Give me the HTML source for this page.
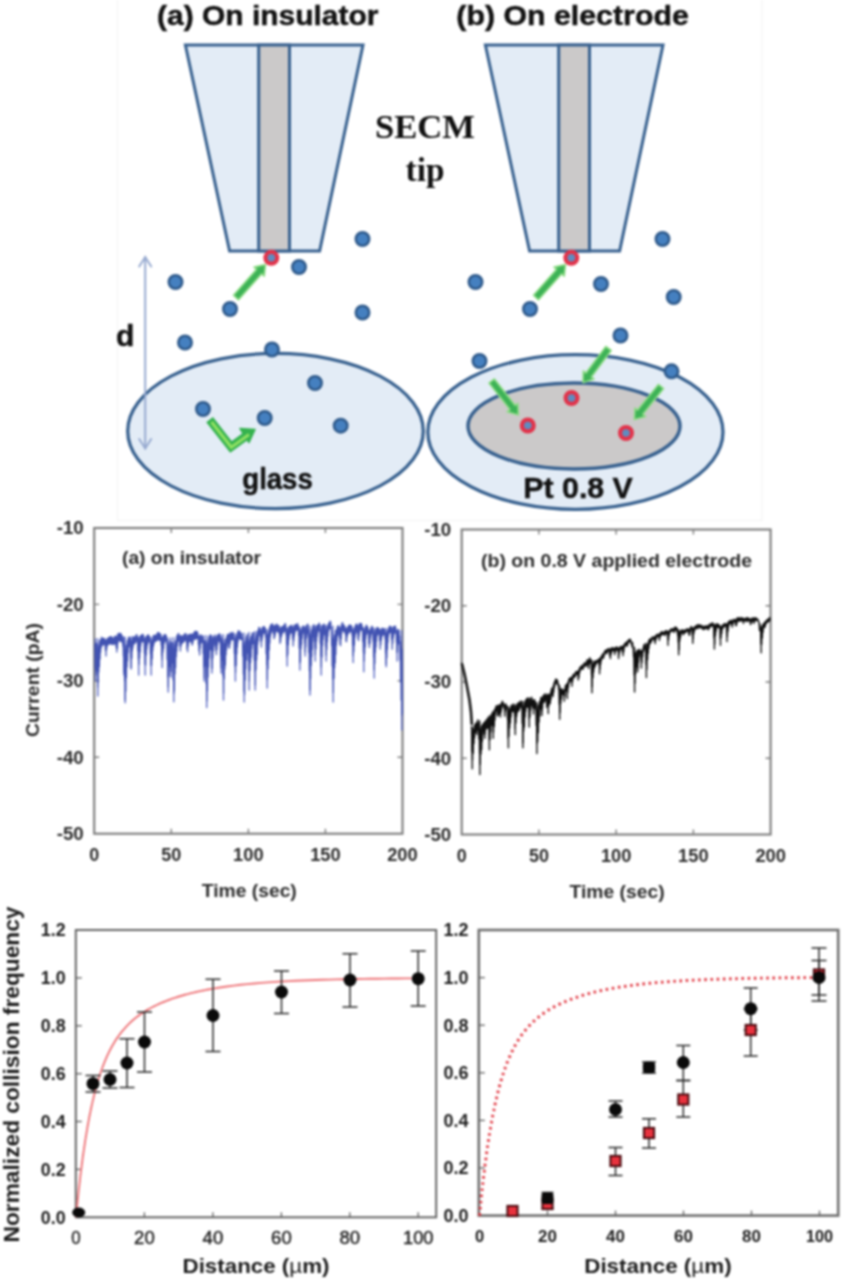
<!DOCTYPE html>
<html lang="en"><head><meta charset="utf-8"><title>SECM collision figure</title>
<style>
html,body{margin:0;padding:0;background:#fff;}
body{width:842px;height:1280px;overflow:hidden;}
svg{display:block;filter:blur(1px);}
.sb{font-family:"Liberation Sans",sans-serif;font-weight:bold;}
.sr{font-family:"Liberation Sans",sans-serif;font-weight:normal;}
.tb{font-family:"Liberation Serif",serif;font-weight:bold;}
</style></head><body>
<svg width="842" height="1280" viewBox="0 0 842 1280">
<rect x="0" y="0" width="842" height="1280" fill="#ffffff"/>
<g>
<rect x="117.5" y="-2" width="644.5" height="522.5" fill="none" stroke="#f2f2f2" stroke-width="1"/>
<ellipse cx="275.5" cy="431" rx="147.8" ry="77.6" fill="#e3ecf6" stroke="#38618f" stroke-width="3.3"/>
<ellipse cx="575.4" cy="432" rx="147.6" ry="77.4" fill="#e3ecf6" stroke="#38618f" stroke-width="3.3"/>
<ellipse cx="574" cy="426" rx="106" ry="43" fill="#cbc9c9" stroke="#38618f" stroke-width="3.5"/>
<polygon points="185.4,45 363,45 319.6,251 229.6,251" fill="#e3ecf6" stroke="#38618f" stroke-width="3" stroke-linejoin="miter"/>
<rect x="258.7" y="45" width="30.8" height="206" fill="#cbc9c9" stroke="#38618f" stroke-width="3"/>
<polygon points="485.4,45 663,45 619.6,251 529.6,251" fill="#e3ecf6" stroke="#38618f" stroke-width="3" stroke-linejoin="miter"/>
<rect x="558.7" y="45" width="30.8" height="206" fill="#cbc9c9" stroke="#38618f" stroke-width="3"/>
<g stroke="#97aad0" stroke-width="2" fill="none" stroke-linecap="round"><path d="M145.2 257 V448.5"/><path d="M139.2 266.5 L145.2 257 L151.2 266.5"/><path d="M139.2 439 L145.2 448.5 L151.2 439"/></g>
<circle cx="175.5" cy="282" r="6.7" fill="#4580c0" stroke="#305b8c" stroke-width="2.6"/>
<circle cx="230" cy="309" r="6.7" fill="#4580c0" stroke="#305b8c" stroke-width="2.6"/>
<circle cx="299" cy="267" r="6.7" fill="#4580c0" stroke="#305b8c" stroke-width="2.6"/>
<circle cx="362.5" cy="239" r="6.7" fill="#4580c0" stroke="#305b8c" stroke-width="2.6"/>
<circle cx="362.5" cy="312.5" r="6.7" fill="#4580c0" stroke="#305b8c" stroke-width="2.6"/>
<circle cx="185" cy="342.5" r="6.7" fill="#4580c0" stroke="#305b8c" stroke-width="2.6"/>
<circle cx="272" cy="349.5" r="6.7" fill="#4580c0" stroke="#305b8c" stroke-width="2.6"/>
<circle cx="315" cy="383" r="6.7" fill="#4580c0" stroke="#305b8c" stroke-width="2.6"/>
<circle cx="203" cy="409" r="6.7" fill="#4580c0" stroke="#305b8c" stroke-width="2.6"/>
<circle cx="264.7" cy="418" r="6.7" fill="#4580c0" stroke="#305b8c" stroke-width="2.6"/>
<circle cx="340.7" cy="425.7" r="6.7" fill="#4580c0" stroke="#305b8c" stroke-width="2.6"/>
<circle cx="475.5" cy="282" r="6.7" fill="#4580c0" stroke="#305b8c" stroke-width="2.6"/>
<circle cx="530" cy="309" r="6.7" fill="#4580c0" stroke="#305b8c" stroke-width="2.6"/>
<circle cx="662.5" cy="239" r="6.7" fill="#4580c0" stroke="#305b8c" stroke-width="2.6"/>
<circle cx="601" cy="284" r="6.7" fill="#4580c0" stroke="#305b8c" stroke-width="2.6"/>
<circle cx="673.7" cy="297" r="6.7" fill="#4580c0" stroke="#305b8c" stroke-width="2.6"/>
<circle cx="620.5" cy="335.5" r="6.7" fill="#4580c0" stroke="#305b8c" stroke-width="2.6"/>
<circle cx="479.5" cy="361" r="6.7" fill="#4580c0" stroke="#305b8c" stroke-width="2.6"/>
<circle cx="671.5" cy="371.3" r="6.7" fill="#4580c0" stroke="#305b8c" stroke-width="2.6"/>
<polygon points="238.5,299.8 261.7,273.8 264.2,276.1 265.5,264.5 254.1,267.1 256.6,269.3 233.5,295.2" fill="#3db256" stroke="#8fdc86" stroke-width="1.6" stroke-linejoin="round"/>
<polygon points="538.5,299.8 561.7,273.8 564.2,276.1 565.5,264.5 554.1,267.1 556.6,269.3 533.5,295.2" fill="#3db256" stroke="#8fdc86" stroke-width="1.6" stroke-linejoin="round"/>
<polygon points="489.0,383.1 509.9,409.6 507.2,411.7 518.4,415.0 517.8,403.4 515.2,405.4 494.4,378.9" fill="#3db256" stroke="#8fdc86" stroke-width="1.6" stroke-linejoin="round"/>
<polygon points="605.8,346.5 586.0,373.1 583.3,371.0 583.0,382.7 594.1,379.1 591.4,377.1 611.2,350.5" fill="#3db256" stroke="#8fdc86" stroke-width="1.6" stroke-linejoin="round"/>
<polygon points="658.4,384.4 637.6,410.1 635.0,408.0 634.3,419.6 645.5,416.4 642.9,414.3 663.6,388.6" fill="#3db256" stroke="#8fdc86" stroke-width="1.6" stroke-linejoin="round"/>
<path d="M209.6 419.6 L231 447 L246 436" fill="none" stroke="#34b24e" stroke-width="8.5" stroke-linejoin="miter"/>
<polygon points="255,429.5 240,428.5 249,442.5" fill="#34b24e" stroke="#34b24e" stroke-width="1.5" stroke-linejoin="round"/>
<path d="M211.5 422 L231.3 447.2 L249 434.5" fill="none" stroke="#8fe063" stroke-width="3.2" stroke-linejoin="miter"/>
<circle cx="271.3" cy="257.8" r="5.9" fill="#5f8cc0" stroke="#e2334a" stroke-width="4.2"/>
<circle cx="571.3" cy="257.8" r="5.9" fill="#5f8cc0" stroke="#e2334a" stroke-width="4.2"/>
<circle cx="571.5" cy="398" r="5.9" fill="#5f8cc0" stroke="#e2334a" stroke-width="4.2"/>
<circle cx="527.8" cy="425.5" r="5.9" fill="#5f8cc0" stroke="#e2334a" stroke-width="4.2"/>
<circle cx="626" cy="433" r="5.9" fill="#5f8cc0" stroke="#e2334a" stroke-width="4.2"/>
<text class="sb" x="157" y="25" font-size="27.5" fill="#121212" stroke="#121212" stroke-width="0.45" textLength="221.5" lengthAdjust="spacingAndGlyphs">(a) On insulator</text>
<text class="sb" x="456.3" y="25" font-size="27.5" fill="#121212" stroke="#121212" stroke-width="0.45" textLength="232.5" lengthAdjust="spacingAndGlyphs">(b) On electrode</text>
<text class="tb" x="375" y="137.5" font-size="34" fill="#111" textLength="100" lengthAdjust="spacingAndGlyphs">SECM</text>
<text class="tb" x="405.5" y="181" font-size="34" fill="#111" textLength="39" lengthAdjust="spacingAndGlyphs">tip</text>
<text class="sb" x="116" y="345.5" font-size="30" fill="#121212" stroke="#121212" stroke-width="0.45">d</text>
<text class="sb" x="242.3" y="489" font-size="29" fill="#121212" stroke="#121212" stroke-width="0.45" textLength="70.5" lengthAdjust="spacingAndGlyphs">glass</text>
<text class="sb" x="523.3" y="498.2" font-size="28.6" fill="#121212" stroke="#121212" stroke-width="0.45" textLength="109.5" lengthAdjust="spacingAndGlyphs">Pt 0.8 V</text>
<rect x="94.2" y="528" width="308.3" height="305.70000000000005" fill="#fff" stroke="#7c7c7c" stroke-width="2.1"/>
<path d="M94.2 604.4 h5 M402.5 604.4 h-5" stroke="#7c7c7c" stroke-width="1.4"/>
<path d="M171.3 528 v5 M171.3 833.7 v-5" stroke="#7c7c7c" stroke-width="1.4"/>
<path d="M94.2 680.9 h5 M402.5 680.9 h-5" stroke="#7c7c7c" stroke-width="1.4"/>
<path d="M248.4 528 v5 M248.4 833.7 v-5" stroke="#7c7c7c" stroke-width="1.4"/>
<path d="M94.2 757.3 h5 M402.5 757.3 h-5" stroke="#7c7c7c" stroke-width="1.4"/>
<path d="M325.4 528 v5 M325.4 833.7 v-5" stroke="#7c7c7c" stroke-width="1.4"/>
<text class="sb" x="56.7" y="534.3" font-size="17.6" fill="#2c2c2c" textLength="27" lengthAdjust="spacingAndGlyphs">-10</text>
<text class="sb" x="56.7" y="610.7" font-size="17.6" fill="#2c2c2c" textLength="27" lengthAdjust="spacingAndGlyphs">-20</text>
<text class="sb" x="56.7" y="687.1" font-size="17.6" fill="#2c2c2c" textLength="27" lengthAdjust="spacingAndGlyphs">-30</text>
<text class="sb" x="56.7" y="763.6" font-size="17.6" fill="#2c2c2c" textLength="27" lengthAdjust="spacingAndGlyphs">-40</text>
<text class="sb" x="56.7" y="840.0" font-size="17.6" fill="#2c2c2c" textLength="27" lengthAdjust="spacingAndGlyphs">-50</text>
<text class="sb" x="89.2" y="861.3" font-size="17.6" fill="#2c2c2c" textLength="10" lengthAdjust="spacingAndGlyphs">0</text>
<text class="sb" x="161.3" y="861.3" font-size="17.6" fill="#2c2c2c" textLength="20" lengthAdjust="spacingAndGlyphs">50</text>
<text class="sb" x="233.1" y="861.3" font-size="17.6" fill="#2c2c2c" textLength="30.5" lengthAdjust="spacingAndGlyphs">100</text>
<text class="sb" x="310.2" y="861.3" font-size="17.6" fill="#2c2c2c" textLength="30.5" lengthAdjust="spacingAndGlyphs">150</text>
<text class="sb" x="387.2" y="861.3" font-size="17.6" fill="#2c2c2c" textLength="30.5" lengthAdjust="spacingAndGlyphs">200</text>
<text class="sb" x="201.8" y="896.7" font-size="18" fill="#2c2c2c" textLength="95" lengthAdjust="spacingAndGlyphs">Time (sec)</text>
<text class="sb" x="122" y="564" font-size="18" fill="#2c2c2c" textLength="139" lengthAdjust="spacingAndGlyphs">(a) on insulator</text>
<rect x="461.7" y="529.5" width="308.90000000000003" height="305.0" fill="#fff" stroke="#7c7c7c" stroke-width="2.1"/>
<path d="M461.7 605.8 h5 M770.6 605.8 h-5" stroke="#7c7c7c" stroke-width="1.4"/>
<path d="M538.9 529.5 v5 M538.9 834.5 v-5" stroke="#7c7c7c" stroke-width="1.4"/>
<path d="M461.7 682.0 h5 M770.6 682.0 h-5" stroke="#7c7c7c" stroke-width="1.4"/>
<path d="M616.1 529.5 v5 M616.1 834.5 v-5" stroke="#7c7c7c" stroke-width="1.4"/>
<path d="M461.7 758.2 h5 M770.6 758.2 h-5" stroke="#7c7c7c" stroke-width="1.4"/>
<path d="M693.4 529.5 v5 M693.4 834.5 v-5" stroke="#7c7c7c" stroke-width="1.4"/>
<text class="sb" x="424.2" y="535.8" font-size="17.6" fill="#2c2c2c" textLength="27" lengthAdjust="spacingAndGlyphs">-10</text>
<text class="sb" x="424.2" y="612.0" font-size="17.6" fill="#2c2c2c" textLength="27" lengthAdjust="spacingAndGlyphs">-20</text>
<text class="sb" x="424.2" y="688.3" font-size="17.6" fill="#2c2c2c" textLength="27" lengthAdjust="spacingAndGlyphs">-30</text>
<text class="sb" x="424.2" y="764.5" font-size="17.6" fill="#2c2c2c" textLength="27" lengthAdjust="spacingAndGlyphs">-40</text>
<text class="sb" x="424.2" y="840.8" font-size="17.6" fill="#2c2c2c" textLength="27" lengthAdjust="spacingAndGlyphs">-50</text>
<text class="sb" x="456.7" y="862.1" font-size="17.6" fill="#2c2c2c" textLength="10" lengthAdjust="spacingAndGlyphs">0</text>
<text class="sb" x="528.9" y="862.1" font-size="17.6" fill="#2c2c2c" textLength="20" lengthAdjust="spacingAndGlyphs">50</text>
<text class="sb" x="600.9" y="862.1" font-size="17.6" fill="#2c2c2c" textLength="30.5" lengthAdjust="spacingAndGlyphs">100</text>
<text class="sb" x="678.1" y="862.1" font-size="17.6" fill="#2c2c2c" textLength="30.5" lengthAdjust="spacingAndGlyphs">150</text>
<text class="sb" x="755.4" y="862.1" font-size="17.6" fill="#2c2c2c" textLength="30.5" lengthAdjust="spacingAndGlyphs">200</text>
<text class="sb" x="569.6" y="897.5" font-size="18" fill="#2c2c2c" textLength="95" lengthAdjust="spacingAndGlyphs">Time (sec)</text>
<text class="sb" x="481" y="567" font-size="18" fill="#2c2c2c" textLength="271" lengthAdjust="spacingAndGlyphs">(b) on 0.8 V applied electrode</text>
<text class="sb" transform="translate(38.5 737) rotate(-90)" font-size="19" fill="#2c2c2c" textLength="114" lengthAdjust="spacingAndGlyphs">Current (pA)</text>
<path d="M95.3 638.9 L95.5 681.0 M97.6 638.8 L97.8 696.0 M123.8 637.3 L124.0 675.0 M125.0 637.3 L125.2 702.7 M130.9 637.0 L131.1 669.0 M138.5 637.2 L138.7 675.0 M145.0 637.4 L145.2 675.0 M151.0 637.5 L151.2 675.0 M162.0 637.8 L162.2 667.5 M168.0 638.0 L168.2 692.0 M170.8 637.9 L171.0 677.0 M173.6 637.8 L173.8 701.7 M204.0 635.8 L204.2 681.0 M206.5 635.7 L206.7 707.5 M211.7 635.4 L211.9 673.0 M221.0 635.0 L221.2 673.0 M223.3 634.8 L223.5 700.0 M235.2 634.2 L235.4 681.0 M244.0 633.3 L244.2 702.0 M249.0 632.5 L249.2 690.0 M255.0 631.5 L255.2 690.0 M267.0 629.5 L267.2 688.0 M287.0 627.9 L287.2 666.0 M299.7 627.0 L299.9 670.0 M305.0 626.6 L305.2 656.0 M309.8 626.2 L310.0 695.0 M315.0 625.8 L315.2 661.0 M321.0 625.3 L321.2 675.0 M326.0 625.1 L326.2 661.0 M333.0 626.2 L333.2 702.0 M353.0 628.0 L353.2 662.6 M363.6 628.0 L363.8 671.7 M374.0 628.0 L374.2 678.0 M386.0 628.5 L386.2 666.7 M397.0 629.5 L397.2 661.0 M401.6 630.6 L401.8 730.0" stroke="#5a69c4" stroke-width="1.4" fill="none" stroke-linecap="round"/>
<polyline points="94.90,643.7 95.20,668.2 95.50,645.4 95.80,674.8 96.10,642.9 96.40,666.7 96.70,643.8 97.00,671.1 97.30,649.0 97.60,687.1 97.90,649.0 98.20,682.2 98.50,646.1 98.80,672.1 99.10,643.8 99.40,666.8 99.70,640.8 100.00,658.9 100.30,639.9 100.60,652.2 100.90,638.9 101.20,648.1 101.50,637.2 101.80,645.9 102.10,638.2 102.40,644.8 102.70,638.2 103.00,644.8 103.30,638.9 103.60,645.0 103.90,638.4 104.20,644.3 104.50,638.3 104.80,644.3 105.10,639.5 105.40,650.2 105.70,640.8 106.00,656.1 106.30,640.3 106.60,649.8 106.90,638.8 107.20,646.3 107.50,638.3 107.80,644.8 108.10,639.0 108.40,644.4 108.70,637.3 109.00,644.0 109.30,638.4 109.60,643.6 109.90,636.9 110.20,643.6 110.50,636.9 110.80,644.2 111.10,636.5 111.40,643.6 111.70,636.9 112.00,644.2 112.30,637.5 112.60,644.3 112.90,638.5 113.20,643.9 113.50,638.0 113.80,644.5 114.10,638.3 114.40,643.8 114.70,636.3 115.00,643.9 115.30,636.1 115.60,642.8 115.90,636.1 116.20,647.4 116.50,638.2 116.80,652.1 117.10,636.6 117.40,648.6 117.70,634.0 118.00,643.0 118.30,634.4 118.60,640.4 118.90,633.3 119.20,640.6 119.50,633.4 119.80,640.9 120.10,633.4 120.40,640.9 120.70,633.3 121.00,641.4 121.30,634.2 121.60,641.9 121.90,635.8 122.20,642.1 122.50,636.0 122.80,645.9 123.10,640.2 123.40,655.9 123.70,643.5 124.00,672.3 124.30,645.6 124.60,680.8 124.90,650.7 125.20,700.2 125.50,649.7 125.80,691.3 126.10,645.8 126.40,677.4 126.70,644.6 127.00,666.9 127.30,640.9 127.60,661.0 127.90,639.6 128.20,652.4 128.50,637.2 128.80,647.4 129.10,637.6 129.40,644.2 129.70,637.3 130.00,645.9 130.30,639.3 130.60,657.5 130.90,641.7 131.20,667.7 131.50,641.2 131.80,658.4 132.10,639.9 132.40,650.6 132.70,637.2 133.00,647.6 133.30,636.4 133.60,644.2 133.90,638.1 134.20,643.6 134.50,637.3 134.80,643.6 135.10,636.8 135.40,642.2 135.70,635.7 136.00,642.3 136.30,634.9 136.60,641.0 136.90,634.6 137.20,640.9 137.50,637.0 137.80,650.8 138.10,638.1 138.40,659.3 138.70,640.2 139.00,664.3 139.30,639.0 139.60,658.0 139.90,636.2 140.20,652.0 140.50,636.3 140.80,645.7 141.10,635.3 141.40,642.2 141.70,634.9 142.00,641.8 142.30,634.4 142.60,641.4 142.90,634.5 143.20,641.7 143.50,635.0 143.80,641.2 144.10,638.3 144.40,652.9 144.70,641.0 145.00,664.1 145.30,640.0 145.60,665.3 145.90,637.2 146.20,655.1 146.50,636.3 146.80,649.1 147.10,635.4 147.40,645.1 147.70,635.5 148.00,642.9 148.30,634.7 148.60,641.7 148.90,635.6 149.20,641.6 149.50,636.4 149.80,642.0 150.10,638.9 150.40,653.7 150.70,642.1 151.00,665.3 151.30,642.9 151.60,665.4 151.90,641.0 152.20,658.8 152.50,638.9 152.80,650.4 153.10,636.0 153.40,646.5 153.70,635.4 154.00,644.1 154.30,636.4 154.60,641.8 154.90,635.3 155.20,641.5 155.50,635.1 155.80,640.7 156.10,634.8 156.40,641.0 156.70,634.8 157.00,640.1 157.30,633.2 157.60,640.0 157.90,632.5 158.20,639.9 158.50,632.8 158.80,639.7 159.10,632.6 159.40,640.1 159.70,633.8 160.00,640.6 160.30,634.8 160.60,639.8 160.90,634.2 161.20,645.1 161.50,637.7 161.80,655.6 162.10,640.3 162.40,659.7 162.70,637.0 163.00,652.0 163.30,636.5 163.60,648.5 163.90,635.0 164.20,643.6 164.50,634.9 164.80,641.2 165.10,634.3 165.40,640.7 165.70,634.8 166.00,641.2 166.30,635.6 166.60,643.7 166.90,639.4 167.20,659.4 167.50,643.8 167.80,676.9 168.10,647.1 168.40,686.9 168.70,645.6 169.00,676.1 169.30,642.9 169.60,666.6 169.90,641.0 170.20,660.3 170.50,644.8 170.80,670.6 171.10,645.3 171.40,671.9 171.70,642.3 172.00,661.0 172.30,642.7 172.60,663.0 172.90,647.6 173.20,679.9 173.50,651.5 173.80,693.4 174.10,648.3 174.40,690.5 174.70,644.2 175.00,673.8 175.30,641.5 175.60,667.7 175.90,640.4 176.20,656.8 176.50,636.8 176.80,651.3 177.10,635.1 177.40,645.7 177.70,634.8 178.00,641.3 178.30,633.5 178.60,640.0 178.90,633.9 179.20,641.4 179.50,635.9 179.80,645.9 180.10,637.1 180.40,651.0 180.70,635.9 181.00,646.3 181.30,635.3 181.60,644.1 181.90,636.5 182.20,643.1 182.50,636.8 182.80,642.5 183.10,636.0 183.40,642.4 183.70,635.2 184.00,641.4 184.30,634.1 184.60,640.7 184.90,634.7 185.20,640.3 185.50,633.3 185.80,639.9 186.10,634.4 186.40,642.2 186.70,636.6 187.00,649.2 187.30,637.0 187.60,651.7 187.90,634.5 188.20,646.2 188.50,635.0 188.80,642.7 189.10,635.1 189.40,641.2 189.70,634.3 190.00,641.2 190.30,635.3 190.60,641.5 190.90,634.1 191.20,640.8 191.50,634.1 191.80,644.0 192.10,634.9 192.40,645.1 192.70,634.3 193.00,642.4 193.30,633.3 193.60,639.6 193.90,632.8 194.20,639.4 194.50,631.6 194.80,638.4 195.10,632.0 195.40,639.2 195.70,631.2 196.00,638.2 196.30,632.4 196.60,638.6 196.90,631.7 197.20,638.3 197.50,631.8 197.80,638.4 198.10,634.0 198.40,644.3 198.70,636.4 199.00,651.1 199.30,636.4 199.60,654.9 199.90,635.6 200.20,648.0 200.50,634.8 200.80,643.4 201.10,635.1 201.40,642.1 201.70,636.2 202.00,642.3 202.30,636.0 202.60,642.5 202.90,637.7 203.20,653.5 203.50,640.5 203.80,666.9 204.10,643.5 204.40,678.1 204.70,640.6 205.00,666.0 205.30,640.8 205.60,664.3 205.90,643.7 206.20,683.6 206.50,649.1 206.80,701.0 207.10,644.7 207.40,690.8 207.70,642.2 208.00,677.0 208.30,639.4 208.60,667.1 208.90,636.7 209.20,658.1 209.50,636.2 209.80,649.8 210.10,634.6 210.40,644.5 210.70,635.6 211.00,649.9 211.30,639.1 211.60,659.9 211.90,640.5 212.20,668.5 212.50,638.7 212.80,658.0 213.10,637.1 213.40,650.7 213.70,636.8 214.00,646.6 214.30,636.0 214.60,643.9 214.90,634.9 215.20,643.1 215.50,637.9 215.80,650.4 216.10,639.8 216.40,654.6 216.70,636.2 217.00,649.4 217.30,635.1 217.60,644.8 217.90,635.0 218.20,641.5 218.50,634.8 218.80,641.2 219.10,633.9 219.40,640.8 219.70,633.9 220.00,643.1 220.30,637.0 220.60,654.9 220.90,640.0 221.20,668.1 221.50,637.6 221.80,660.5 222.10,638.8 222.40,659.1 222.70,641.6 223.00,675.8 223.30,647.9 223.60,693.2 223.90,644.1 224.20,678.7 224.50,643.2 224.80,669.1 225.10,639.6 225.40,665.1 225.70,639.1 226.00,654.7 226.30,637.7 226.60,649.7 226.90,635.7 227.20,646.3 227.50,634.4 227.80,641.6 228.10,634.2 228.40,643.0 228.70,635.6 229.00,647.8 229.30,634.4 229.60,648.1 229.90,633.7 230.20,643.8 230.50,632.4 230.80,640.7 231.10,633.4 231.40,639.1 231.70,633.3 232.00,639.7 232.30,633.4 232.60,639.1 232.90,632.1 233.20,639.5 233.50,633.2 233.80,639.9 234.10,637.3 234.40,653.4 234.70,639.1 235.00,666.0 235.30,641.7 235.60,672.5 235.90,639.0 236.20,665.4 236.50,636.2 236.80,653.7 237.10,633.1 237.40,646.9 237.70,632.5 238.00,642.2 238.30,630.5 238.60,639.1 238.90,632.2 239.20,638.4 239.50,631.3 239.80,637.8 240.10,631.4 240.40,639.4 240.70,633.4 241.00,638.9 241.30,634.4 241.60,639.4 241.90,633.2 242.20,639.9 242.50,637.6 242.80,656.2 243.10,642.0 243.40,674.1 243.70,645.4 244.00,691.2 244.30,647.2 244.60,694.4 244.90,643.2 245.20,680.0 245.50,640.9 245.80,668.8 246.10,637.2 246.40,660.0 246.70,635.7 247.00,652.9 247.30,634.0 247.60,647.1 247.90,638.3 248.20,660.6 248.50,640.7 248.80,670.9 249.10,645.0 249.40,681.1 249.70,641.4 250.00,670.3 250.30,639.0 250.60,662.5 250.90,636.4 251.20,657.3 251.50,635.8 251.80,648.4 252.10,633.2 252.40,644.3 252.70,633.1 253.00,639.7 253.30,632.7 253.60,643.6 253.90,637.8 254.20,660.0 254.50,641.4 254.80,671.2 255.10,643.6 255.40,685.1 255.70,639.1 256.00,669.7 256.30,635.5 256.60,659.9 256.90,632.6 257.20,654.3 257.50,630.9 257.80,644.0 258.10,630.4 258.40,640.4 258.70,627.4 259.00,636.4 259.30,628.0 259.60,634.9 259.90,627.9 260.20,634.5 260.50,630.4 260.80,641.3 261.10,631.1 261.40,647.0 261.70,629.2 262.00,640.2 262.30,627.5 262.60,637.1 262.90,627.5 263.20,634.1 263.50,626.6 263.80,632.8 264.10,626.3 264.40,632.8 264.70,627.3 265.00,633.4 265.30,628.0 265.60,637.1 265.90,631.1 266.20,653.8 266.50,634.6 266.80,664.7 267.10,638.9 267.40,679.8 267.70,635.2 268.00,668.8 268.30,633.1 268.60,659.3 268.90,630.2 269.20,650.0 269.50,627.3 269.80,643.0 270.10,626.5 270.40,636.7 270.70,624.5 271.00,633.8 271.30,624.6 271.60,631.9 271.90,624.9 272.20,631.2 272.50,623.6 272.80,631.2 273.10,625.3 273.40,633.4 273.70,626.4 274.00,638.7 274.30,626.1 274.60,637.6 274.90,625.5 275.20,634.9 275.50,625.5 275.80,631.6 276.10,624.3 276.40,631.1 276.70,624.0 277.00,631.0 277.30,625.6 277.60,631.8 277.90,625.8 278.20,632.2 278.50,625.1 278.80,631.8 279.10,626.2 279.40,635.0 279.70,628.5 280.00,643.4 280.30,628.7 280.60,641.7 280.90,627.3 281.20,637.3 281.50,626.9 281.80,635.4 282.10,627.8 282.40,633.3 282.70,626.3 283.00,632.7 283.30,626.3 283.60,631.7 283.90,625.2 284.20,631.9 284.50,625.0 284.80,630.6 285.10,623.3 285.40,630.6 285.70,624.4 286.00,634.7 286.30,627.9 286.60,644.3 286.90,631.2 287.20,656.7 287.50,630.4 287.80,654.4 288.10,628.8 288.40,644.7 288.70,627.2 289.00,639.3 289.30,627.0 289.60,635.7 289.90,625.8 290.20,633.5 290.50,625.9 290.80,632.4 291.10,626.3 291.40,632.8 291.70,625.1 292.00,632.6 292.30,626.5 292.60,638.8 292.90,628.4 293.20,645.9 293.50,627.5 293.80,640.8 294.10,625.2 294.40,636.2 294.70,625.4 295.00,633.2 295.30,625.5 295.60,630.8 295.90,624.2 296.20,630.3 296.50,624.9 296.80,630.2 297.10,624.3 297.40,630.1 297.70,623.5 298.00,630.2 298.30,625.7 298.60,635.4 298.90,628.9 299.20,648.2 299.50,633.0 299.80,662.8 300.10,632.4 300.40,661.6 300.70,629.8 301.00,648.6 301.30,629.7 301.60,644.6 301.90,627.6 302.20,638.5 302.50,626.6 302.80,634.2 303.10,626.1 303.40,632.1 303.70,626.0 304.00,632.2 304.30,628.3 304.60,642.6 304.90,630.9 305.20,652.1 305.50,628.7 305.80,647.1 306.10,626.1 306.40,638.4 306.70,625.1 307.00,633.4 307.30,624.5 307.60,631.6 307.90,624.2 308.20,636.8 308.50,629.6 308.80,652.4 309.10,633.7 309.40,670.8 309.70,637.6 310.00,690.1 310.30,635.3 310.60,678.5 310.90,633.0 311.20,665.5 311.50,630.5 311.80,656.6 312.10,628.7 312.40,649.4 312.70,625.8 313.00,641.3 313.30,626.1 313.60,636.9 313.90,624.5 314.20,636.2 314.50,628.4 314.80,647.4 315.10,631.4 315.40,654.6 315.70,628.9 316.00,648.9 316.30,626.7 316.60,641.1 316.90,625.6 317.20,636.4 317.50,625.5 317.80,632.9 318.10,624.3 318.40,631.0 318.70,624.6 319.00,630.8 319.30,623.0 319.60,631.1 319.90,627.5 320.20,643.3 320.50,630.1 320.80,656.0 321.10,632.4 321.40,667.0 321.70,627.8 322.00,657.0 322.30,625.6 322.60,645.5 322.90,625.7 323.20,639.5 323.50,624.1 323.80,635.4 324.10,624.1 324.40,632.5 324.70,625.5 325.00,633.9 325.30,628.1 325.60,646.4 325.90,632.5 326.20,655.2 326.50,630.3 326.80,649.6 327.10,627.0 327.40,641.6 327.70,625.8 328.00,636.1 328.30,624.0 328.60,631.4 328.90,623.2 329.20,629.3 329.50,622.1 329.80,628.5 330.10,621.2 330.40,628.3 330.70,621.9 331.00,629.0 331.30,627.2 331.60,645.7 331.90,631.2 332.20,666.0 332.50,637.9 332.80,678.9 333.10,641.0 333.40,692.4 333.70,639.0 334.00,678.3 334.30,635.7 334.60,667.7 334.90,634.5 335.20,662.9 335.50,630.5 335.80,654.5 336.10,630.4 336.40,645.2 336.70,628.8 337.00,640.9 337.30,626.5 337.60,636.0 337.90,626.4 338.20,634.3 338.50,625.4 338.80,633.0 339.10,627.0 339.40,637.7 339.70,629.3 340.00,644.4 340.30,627.8 340.60,645.7 340.90,626.5 341.20,638.8 341.50,624.6 341.80,633.8 342.10,623.0 342.40,630.0 342.70,622.7 343.00,630.6 343.30,625.5 343.60,631.5 343.90,625.2 344.20,631.3 344.50,625.5 344.80,632.5 345.10,627.0 345.40,634.4 345.70,628.7 346.00,641.2 346.30,628.9 346.60,641.7 346.90,628.0 347.20,636.9 347.50,627.3 347.80,634.4 348.10,626.0 348.40,632.3 348.70,626.1 349.00,633.0 349.30,625.0 349.60,631.6 349.90,625.1 350.20,631.3 350.50,625.0 350.80,631.8 351.10,626.2 351.40,631.9 351.70,625.9 352.00,635.2 352.30,630.0 352.60,645.1 352.90,632.3 353.20,655.7 353.50,630.8 353.80,651.7 354.10,629.3 354.40,645.1 354.70,627.5 355.00,637.3 355.30,625.1 355.60,634.3 355.90,624.8 356.20,632.0 356.50,623.8 356.80,630.4 357.10,624.5 357.40,632.9 357.70,625.8 358.00,638.9 358.30,626.8 358.60,640.7 358.90,624.8 359.20,636.1 359.50,623.5 359.80,632.5 360.10,623.8 360.40,629.9 360.70,623.7 361.00,630.0 361.30,623.3 361.60,630.1 361.90,624.5 362.20,630.2 362.50,627.1 362.80,641.5 363.10,630.3 363.40,652.3 363.70,633.3 364.00,661.1 364.30,630.5 364.60,653.7 364.90,628.1 365.20,646.9 365.50,626.8 365.80,638.6 366.10,625.1 366.40,634.8 366.70,625.4 367.00,632.6 367.30,626.5 367.60,632.4 367.90,627.1 368.20,634.1 368.50,629.9 368.80,643.7 369.10,630.8 369.40,647.4 369.70,630.6 370.00,643.6 370.30,629.1 370.60,637.7 370.90,627.8 371.20,634.4 371.50,626.7 371.80,632.8 372.10,626.2 372.40,632.8 372.70,628.1 373.00,641.1 373.30,630.8 373.60,657.0 373.90,634.0 374.20,669.9 374.50,633.4 374.80,663.5 375.10,630.4 375.40,652.3 375.70,629.8 376.00,647.1 376.30,628.3 376.60,641.2 376.90,627.6 377.20,636.0 377.50,627.3 377.80,634.3 378.10,627.9 378.40,634.1 378.70,628.3 379.00,633.7 379.30,629.1 379.60,640.6 379.90,631.9 380.20,649.1 380.50,630.7 380.80,644.8 381.10,629.2 381.40,640.1 381.70,628.7 382.00,636.7 382.30,628.0 382.60,635.1 382.90,628.7 383.20,634.9 383.50,629.1 383.80,634.7 384.10,628.7 384.40,634.6 384.70,629.5 385.00,638.7 385.30,632.4 385.60,653.0 385.90,636.9 386.20,664.5 386.50,633.3 386.80,657.8 387.10,631.6 387.40,649.3 387.70,630.3 388.00,642.3 388.30,628.4 388.60,636.3 388.90,627.6 389.20,633.5 389.50,626.2 389.80,632.5 390.10,626.3 390.40,632.4 390.70,626.5 391.00,632.7 391.30,627.1 391.60,639.6 391.90,629.7 392.20,649.2 392.50,628.9 392.80,643.3 393.10,627.1 393.40,637.4 393.70,626.7 394.00,634.2 394.30,626.4 394.60,633.0 394.90,626.3 395.20,632.7 395.50,626.1 395.80,633.0 396.10,629.9 396.40,642.0 396.70,632.6 397.00,652.3 397.30,632.3 397.60,652.1 397.90,630.7 398.20,644.6 398.50,629.5 398.80,640.3 399.10,630.3 399.40,642.7 399.70,635.9 400.00,660.0 400.30,641.7 400.60,681.9 400.90,646.5 401.20,700.2 401.50,652.9 401.80,715.3 402.10,649.7 402.40,713.7" fill="none" stroke="#4253b2" stroke-width="1.25" stroke-linejoin="round"/>
<path d="M472.1 727.4 L472.3 768.7 M479.7 721.1 L479.9 774.4 M484.6 722.1 L484.8 738.3 M489.2 716.0 L489.4 749.7 M493.0 711.3 L493.2 738.3 M508.2 706.5 L508.4 747.8 M515.1 704.8 L515.3 734.5 M522.7 701.2 L522.9 747.8 M529.1 698.0 L529.3 726.9 M536.7 702.7 L536.9 753.5 M541.7 697.8 L541.9 715.5 M548.1 693.9 L548.3 713.6 M559.5 685.6 L559.7 719.3 M567.1 683.7 L567.3 698.4 M591.8 660.3 L592.0 692.7 M599.4 659.0 L599.6 673.7 M618.4 648.6 L618.6 658.5 M634.4 647.6 L634.6 692.0 M637.4 650.1 L637.6 671.8 M641.2 651.4 L641.4 668.0 M646.2 643.2 L646.4 677.5 M667.8 631.6 L668.0 645.2 M678.5 630.1 L678.7 654.7 M692.6 628.1 L692.8 643.3 M714.2 624.3 L714.4 649.0 M720.3 626.4 L720.5 645.2 M726.8 623.9 L727.0 641.4 M761.0 626.7 L761.2 652.8" stroke="#1a1a1a" stroke-width="1.5" fill="none" stroke-linecap="round"/>
<path d="M462 664 L464.5 674 L467 686.5 L469.5 700 L471 712 L471.8 724" fill="none" stroke="#151515" stroke-width="2.6" stroke-linecap="round" stroke-linejoin="round"/>
<polyline points="471.50,725.9 471.85,751.4 472.20,735.6 472.55,760.0 472.90,731.3 473.25,753.3 473.60,728.9 473.95,743.5 474.30,725.8 474.65,737.7 475.00,724.8 475.35,732.5 475.70,723.1 476.05,728.6 476.40,724.1 476.75,734.4 477.10,721.8 477.45,730.3 477.80,719.8 478.15,726.4 478.50,723.2 478.85,739.0 479.20,729.0 479.55,753.6 479.90,731.5 480.25,764.2 480.60,729.0 480.95,754.0 481.30,726.8 481.65,749.5 482.00,725.5 482.35,741.2 482.70,724.5 483.05,734.5 483.40,723.7 483.75,731.3 484.10,722.7 484.45,730.4 484.80,723.3 485.15,733.8 485.50,721.5 485.85,729.2 486.20,719.7 486.55,726.7 486.90,720.7 487.25,728.6 487.60,717.9 487.95,724.9 488.30,717.8 488.65,727.4 489.00,721.8 489.35,739.7 489.70,719.2 490.05,739.6 490.40,716.5 490.75,731.8 491.10,714.9 491.45,725.6 491.80,713.7 492.15,720.1 492.50,712.7 492.85,725.2 493.20,714.5 493.55,732.2 493.90,712.3 494.25,726.4 494.60,709.4 494.95,719.9 495.30,708.1 495.65,714.8 496.00,706.1 496.35,711.0 496.70,705.7 497.05,708.8 497.40,707.4 497.75,716.1 498.10,705.8 498.45,715.8 498.80,704.9 499.15,711.1 499.50,704.8 499.85,713.8 500.20,706.1 500.55,717.0 500.90,704.3 501.25,711.5 501.60,702.7 501.95,707.9 502.30,701.1 502.65,705.5 503.00,702.2 503.35,705.2 503.70,703.8 504.05,708.4 504.40,705.3 504.75,716.2 505.10,704.9 505.45,711.0 505.80,703.8 506.15,708.2 506.50,705.3 506.85,707.7 507.20,707.9 507.55,719.2 507.90,712.6 508.25,738.3 508.60,712.9 508.95,736.3 509.30,709.9 509.65,727.9 510.00,708.2 510.35,722.9 510.70,706.9 511.05,716.9 511.40,705.0 511.75,711.6 512.10,705.3 512.45,709.3 512.80,705.5 513.15,711.6 513.50,703.9 513.85,708.9 514.20,706.3 514.55,715.3 514.90,709.6 515.25,728.8 515.60,708.3 515.95,722.9 516.30,706.0 516.65,716.3 517.00,704.4 517.35,712.6 517.70,703.0 518.05,708.2 518.40,703.4 518.75,711.0 519.10,703.0 519.45,709.5 519.80,701.9 520.15,707.0 520.50,700.9 520.85,704.4 521.20,701.9 521.55,708.3 521.90,705.3 522.25,723.4 522.60,710.6 522.95,742.8 523.30,707.5 523.65,731.1 524.00,705.0 524.35,726.9 524.70,702.2 525.05,716.9 525.40,700.6 525.75,711.2 526.10,699.3 526.45,707.4 526.80,698.9 527.15,707.3 527.50,698.0 527.85,703.5 528.20,698.7 528.55,707.6 528.90,701.6 529.25,718.8 529.60,701.6 529.95,717.1 530.30,699.1 530.65,710.1 531.00,698.1 531.35,705.6 531.70,697.2 532.05,702.3 532.40,699.9 532.75,707.9 533.10,700.9 533.45,714.0 533.80,700.0 534.15,708.2 534.50,699.6 534.85,705.0 535.20,701.1 535.55,709.9 535.90,707.5 536.25,725.4 536.60,711.7 536.95,743.3 537.30,710.5 537.65,741.5 538.00,706.3 538.35,732.6 538.70,704.6 539.05,722.0 539.40,701.4 539.75,716.2 540.10,701.2 540.45,709.0 540.80,697.4 541.15,704.6 541.50,699.7 541.85,711.2 542.20,698.1 542.55,708.1 542.90,695.9 543.25,702.9 543.60,695.2 543.95,700.9 544.30,695.1 544.65,702.1 545.00,693.6 545.35,699.3 545.70,695.1 546.05,700.2 546.40,696.5 546.75,707.5 547.10,694.5 547.45,701.4 547.80,695.4 548.15,705.5 548.50,696.0 548.85,706.3 549.20,694.7 549.55,703.1 549.90,694.7 550.25,703.5 550.60,691.9 550.95,699.5 551.30,689.2 551.65,695.1 552.00,687.9 552.35,693.3 552.70,687.9 553.05,696.6 553.40,685.2 553.75,692.1 554.10,682.8 554.45,687.5 554.80,681.2 555.15,684.6 555.50,679.2 555.85,682.6 556.20,679.3 556.55,682.9 556.90,679.5 557.25,684.5 557.60,680.6 557.95,684.5 558.30,683.6 558.65,689.4 559.00,688.9 559.35,704.2 559.70,691.1 560.05,712.6 560.40,689.8 560.75,703.3 561.10,688.7 561.45,699.0 561.80,688.9 562.15,694.7 562.50,689.4 562.85,692.1 563.20,690.3 563.55,694.6 563.90,691.7 564.25,701.3 564.60,688.9 564.95,696.2 565.30,685.8 565.65,691.3 566.00,684.9 566.35,687.5 566.70,684.5 567.05,690.8 567.40,684.3 567.75,692.7 568.10,681.7 568.45,687.3 568.80,679.3 569.15,683.1 569.50,678.4 569.85,680.6 570.20,678.0 570.55,679.9 570.90,677.5 571.25,682.2 571.60,677.4 571.95,686.3 572.30,676.4 572.65,681.3 573.00,674.7 573.35,678.1 573.70,674.3 574.05,676.1 574.40,674.4 574.75,677.2 575.10,672.9 575.45,676.1 575.80,671.8 576.15,674.7 576.50,671.4 576.85,673.4 577.20,671.3 577.55,674.6 577.90,672.3 578.25,680.0 578.60,670.4 578.95,677.6 579.30,668.5 579.65,672.8 580.00,667.2 580.35,670.6 580.70,666.6 581.05,669.1 581.40,666.2 581.75,668.5 582.10,665.3 582.45,669.2 582.80,665.1 583.15,669.1 583.50,664.7 583.85,666.8 584.20,662.9 584.55,665.8 584.90,663.0 585.25,665.5 585.60,662.9 585.95,666.6 586.30,662.3 586.65,664.6 587.00,659.9 587.35,662.8 587.70,660.0 588.05,666.3 588.40,661.2 588.75,668.5 589.10,659.1 589.45,664.2 589.80,657.7 590.15,661.1 590.50,659.1 590.85,662.9 591.20,661.9 591.55,675.1 591.90,665.5 592.25,686.8 592.60,664.7 592.95,677.8 593.30,663.1 593.65,672.0 594.00,661.2 594.35,667.9 594.70,662.7 595.05,666.7 595.40,661.2 595.75,664.7 596.10,660.7 596.45,663.6 596.80,660.7 597.15,662.6 597.50,660.2 597.85,662.1 598.20,659.7 598.55,661.3 598.90,658.9 599.25,665.3 599.60,660.7 599.95,669.3 600.30,658.0 600.65,664.3 601.00,656.4 601.35,660.8 601.70,656.1 602.05,658.1 602.40,654.1 602.75,656.7 603.10,653.9 603.45,658.4 603.80,653.1 604.15,656.0 604.50,651.3 604.85,653.9 605.20,650.8 605.55,652.9 605.90,650.2 606.25,651.9 606.60,649.8 606.95,653.8 607.30,649.4 607.65,652.0 608.00,649.3 608.35,650.8 608.70,648.4 609.05,650.3 609.40,649.3 609.75,656.0 610.10,651.1 610.45,658.6 610.80,648.3 611.15,654.1 611.50,648.7 611.85,651.7 612.20,647.4 612.55,650.4 612.90,648.2 613.25,650.7 613.60,648.3 613.95,650.6 614.30,648.1 614.65,654.6 615.00,647.9 615.35,652.1 615.70,647.7 616.05,650.8 616.40,647.0 616.75,649.9 617.10,647.3 617.45,649.7 617.80,647.5 618.15,651.3 618.50,649.2 618.85,655.8 619.20,648.3 619.55,652.7 619.90,647.1 620.25,650.0 620.60,646.5 620.95,649.1 621.30,646.8 621.65,648.7 622.00,646.3 622.35,651.9 622.70,648.1 623.05,655.7 623.40,645.8 623.75,651.8 624.10,644.2 624.45,647.8 624.80,643.9 625.15,645.9 625.50,642.7 625.85,645.5 626.20,642.2 626.55,645.3 626.90,642.9 627.25,646.3 627.60,641.0 627.95,644.2 628.30,640.1 628.65,642.3 629.00,640.0 629.35,641.9 629.70,639.1 630.05,641.0 630.40,639.4 630.75,642.0 631.10,641.2 631.45,644.8 631.80,642.8 632.15,647.1 632.50,642.4 632.85,645.9 633.20,647.2 633.55,657.0 633.90,652.1 634.25,675.0 634.60,657.0 634.95,683.2 635.30,653.7 635.65,673.8 636.00,652.5 636.35,667.1 636.70,651.2 637.05,660.1 637.40,653.1 637.75,668.7 638.10,651.7 638.45,662.4 638.80,650.3 639.15,656.6 639.50,649.2 639.85,653.3 640.20,650.1 640.55,652.3 640.90,652.3 641.25,660.4 641.60,651.2 641.95,662.7 642.30,650.2 642.65,656.7 643.00,648.0 643.35,651.8 643.70,645.2 644.05,649.0 644.40,644.2 644.75,647.3 645.10,645.5 645.45,651.6 645.80,648.5 646.15,664.3 646.50,647.8 646.85,669.4 647.20,644.4 647.55,659.7 647.90,643.8 648.25,653.2 648.60,640.6 648.95,648.3 649.30,639.7 649.65,644.4 650.00,638.8 650.35,642.3 650.70,639.1 651.05,642.8 651.40,638.5 651.75,640.6 652.10,636.9 652.45,639.6 652.80,637.6 653.15,639.0 653.50,637.0 653.85,638.8 654.20,637.4 654.55,641.5 654.90,636.4 655.25,643.6 655.60,635.9 655.95,639.8 656.30,634.8 656.65,638.0 657.00,634.9 657.35,636.8 657.70,634.3 658.05,636.5 658.40,634.2 658.75,636.3 659.10,635.1 659.45,640.4 659.80,633.8 660.15,637.4 660.50,632.7 660.85,635.4 661.20,632.3 661.55,635.1 661.90,631.4 662.25,634.3 662.60,633.0 662.95,634.6 663.30,632.4 663.65,634.3 664.00,632.1 664.35,634.3 664.70,631.4 665.05,635.7 665.40,631.3 665.75,634.5 666.10,630.6 666.45,633.3 666.80,630.6 667.15,633.2 667.50,631.9 667.85,638.5 668.20,632.2 668.55,640.0 668.90,631.1 669.25,635.3 669.60,630.1 669.95,632.6 670.30,630.2 670.65,631.7 671.00,629.0 671.35,631.1 671.70,628.8 672.05,631.1 672.40,628.9 672.75,631.0 673.10,629.1 673.45,631.0 673.80,628.8 674.15,632.5 674.50,627.4 674.85,630.9 675.20,627.3 675.55,629.8 675.90,627.1 676.25,629.7 676.60,627.7 676.95,631.8 677.30,628.7 677.65,635.1 678.00,632.5 678.35,642.2 678.70,633.9 679.05,649.8 679.40,632.4 679.75,641.1 680.10,630.8 680.45,637.4 680.80,630.9 681.15,634.2 681.50,629.7 681.85,632.7 682.20,630.5 682.55,632.7 682.90,631.1 683.25,634.8 683.60,629.9 683.95,633.8 684.30,630.2 684.65,632.7 685.00,630.8 685.35,632.6 685.70,629.9 686.05,631.8 686.40,629.4 686.75,631.7 687.10,628.6 687.45,631.2 687.80,629.1 688.15,631.0 688.50,629.3 688.85,634.4 689.20,629.1 689.55,635.4 689.90,629.0 690.25,631.8 690.60,627.1 690.95,629.6 691.30,626.5 691.65,629.5 692.00,628.3 692.35,634.8 692.70,628.8 693.05,638.9 693.40,628.1 693.75,633.9 694.10,627.5 694.45,631.2 694.80,626.6 695.15,629.0 695.50,625.9 695.85,628.6 696.20,626.5 696.55,628.2 696.90,625.3 697.25,628.7 697.60,625.0 697.95,628.1 698.30,624.6 698.65,627.5 699.00,624.8 699.35,627.7 699.70,625.6 700.05,627.6 700.40,625.0 700.75,627.8 701.10,626.1 701.45,628.1 701.80,625.5 702.15,628.1 702.50,626.3 702.85,629.2 703.20,626.5 703.55,629.7 703.90,626.5 704.25,628.7 704.60,626.2 704.95,628.8 705.30,626.2 705.65,628.8 706.00,627.2 706.35,628.6 706.70,625.7 707.05,628.5 707.40,625.9 707.75,628.7 708.10,626.3 708.45,629.9 708.80,625.3 709.15,628.4 709.50,624.1 709.85,627.1 710.20,623.9 710.55,626.5 710.90,623.9 711.25,626.2 711.60,624.0 711.95,626.1 712.30,622.6 712.65,625.8 713.00,623.3 713.35,626.9 713.70,625.7 714.05,637.8 714.40,627.9 714.75,644.3 715.10,626.0 715.45,635.6 715.80,624.7 716.15,631.3 716.50,623.7 716.85,627.5 717.20,623.8 717.55,627.5 717.90,624.6 718.25,627.5 718.60,624.3 718.95,627.0 719.30,625.1 719.65,628.5 720.00,627.5 720.35,639.1 720.70,628.1 721.05,637.7 721.40,626.6 721.75,633.4 722.10,625.1 722.45,629.2 722.80,625.0 723.15,627.9 723.50,625.0 723.85,627.0 724.20,623.8 724.55,626.3 724.90,623.4 725.25,625.5 725.60,623.9 725.95,626.4 726.30,625.0 726.65,632.9 727.00,625.4 727.35,636.6 727.70,623.3 728.05,631.0 728.40,621.6 728.75,626.5 729.10,621.2 729.45,623.8 729.80,621.8 730.15,623.6 730.50,620.2 730.85,623.1 731.20,620.5 731.55,624.7 731.90,620.9 732.25,627.1 732.60,621.4 732.95,624.4 733.30,619.4 733.65,622.3 734.00,619.8 734.35,621.9 734.70,619.5 735.05,621.9 735.40,619.8 735.75,625.8 736.10,620.1 736.45,625.4 736.80,618.5 737.15,622.7 737.50,617.7 737.85,621.0 738.20,617.8 738.55,620.9 738.90,618.2 739.25,621.1 739.60,618.5 739.95,621.1 740.30,617.5 740.65,620.8 741.00,618.4 741.35,620.6 741.70,618.3 742.05,620.5 742.40,617.6 742.75,621.3 743.10,618.3 743.45,623.5 743.80,619.0 744.15,621.5 744.50,618.6 744.85,620.5 745.20,618.4 745.55,620.1 745.90,618.4 746.25,621.4 746.60,617.8 746.95,621.6 747.30,617.6 747.65,620.8 748.00,618.1 748.35,620.8 748.70,618.3 749.05,620.9 749.40,618.5 749.75,621.1 750.10,619.2 750.45,624.5 750.80,619.8 751.15,623.6 751.50,618.7 751.85,621.9 752.20,618.0 752.55,621.1 752.90,618.0 753.25,620.8 753.60,618.9 753.95,623.5 754.30,617.9 754.65,621.7 755.00,618.0 755.35,620.7 755.70,617.6 756.05,620.3 756.40,618.4 756.75,620.2 757.10,618.8 757.45,620.1 757.80,619.1 758.15,621.4 758.50,620.6 758.85,622.8 759.20,623.7 759.55,630.5 759.90,623.8 760.25,629.6 760.60,629.2 760.95,643.7 761.30,629.1 761.65,644.6 762.00,626.4 762.35,637.9 762.70,624.8 763.05,632.2 763.40,623.8 763.75,627.9 764.10,623.5 764.45,627.4 764.80,622.0 765.15,626.9 765.50,621.4 765.85,624.4 766.20,621.3 766.55,622.8 766.90,619.7 767.25,622.3 767.60,619.4 767.95,621.9 768.30,619.4 768.65,621.5 769.00,618.0 769.35,621.0 769.70,617.6 770.05,620.6" fill="none" stroke="#101010" stroke-width="1.35" stroke-linejoin="round"/>
<rect x="75.8" y="930" width="360.4" height="287.29999999999995" fill="#fff" stroke="#5e5e5e" stroke-width="1.9"/>
<text class="sb" x="40.8" y="936.3" font-size="17.5" fill="#1c1c1c" textLength="24.8" lengthAdjust="spacingAndGlyphs">1.2</text>
<path d="M75.8 977.9 h6" stroke="#5e5e5e" stroke-width="1.3"/>
<text class="sb" x="40.8" y="984.2" font-size="17.5" fill="#1c1c1c" textLength="24.8" lengthAdjust="spacingAndGlyphs">1.0</text>
<path d="M75.8 1025.8 h6" stroke="#5e5e5e" stroke-width="1.3"/>
<text class="sb" x="40.8" y="1032.1" font-size="17.5" fill="#1c1c1c" textLength="24.8" lengthAdjust="spacingAndGlyphs">0.8</text>
<path d="M75.8 1073.7 h6" stroke="#5e5e5e" stroke-width="1.3"/>
<text class="sb" x="40.8" y="1080.0" font-size="17.5" fill="#1c1c1c" textLength="24.8" lengthAdjust="spacingAndGlyphs">0.6</text>
<path d="M75.8 1121.5 h6" stroke="#5e5e5e" stroke-width="1.3"/>
<text class="sb" x="40.8" y="1127.8" font-size="17.5" fill="#1c1c1c" textLength="24.8" lengthAdjust="spacingAndGlyphs">0.4</text>
<path d="M75.8 1169.4 h6" stroke="#5e5e5e" stroke-width="1.3"/>
<text class="sb" x="40.8" y="1175.7" font-size="17.5" fill="#1c1c1c" textLength="24.8" lengthAdjust="spacingAndGlyphs">0.2</text>
<text class="sb" x="40.8" y="1223.6" font-size="17.5" fill="#1c1c1c" textLength="24.8" lengthAdjust="spacingAndGlyphs">0.0</text>
<text class="sr" x="71.3" y="1243.9" font-size="19" fill="#1c1c1c" stroke="#1c1c1c" stroke-width="0.4" textLength="9.4" lengthAdjust="spacingAndGlyphs">0</text>
<path d="M144.4 1217.3 v-5" stroke="#5e5e5e" stroke-width="1.3"/>
<text class="sr" x="134.1" y="1243.9" font-size="19" fill="#1c1c1c" stroke="#1c1c1c" stroke-width="0.4" textLength="20.6" lengthAdjust="spacingAndGlyphs">20</text>
<path d="M212.9 1217.3 v-5" stroke="#5e5e5e" stroke-width="1.3"/>
<text class="sr" x="202.6" y="1243.9" font-size="19" fill="#1c1c1c" stroke="#1c1c1c" stroke-width="0.4" textLength="20.6" lengthAdjust="spacingAndGlyphs">40</text>
<path d="M281.4 1217.3 v-5" stroke="#5e5e5e" stroke-width="1.3"/>
<text class="sr" x="271.1" y="1243.9" font-size="19" fill="#1c1c1c" stroke="#1c1c1c" stroke-width="0.4" textLength="20.6" lengthAdjust="spacingAndGlyphs">60</text>
<path d="M349.8 1217.3 v-5" stroke="#5e5e5e" stroke-width="1.3"/>
<text class="sr" x="339.5" y="1243.9" font-size="19" fill="#1c1c1c" stroke="#1c1c1c" stroke-width="0.4" textLength="20.6" lengthAdjust="spacingAndGlyphs">80</text>
<path d="M418.2 1217.3 v-5" stroke="#5e5e5e" stroke-width="1.3"/>
<text class="sr" x="403.0" y="1243.9" font-size="19" fill="#1c1c1c" stroke="#1c1c1c" stroke-width="0.4" textLength="30.5" lengthAdjust="spacingAndGlyphs">100</text>
<text class="sb" transform="translate(18.8 1242.5) rotate(-90)" font-size="22.3" fill="#1c1c1c" textLength="336" lengthAdjust="spacingAndGlyphs">Normalized collision frequency</text>
<text class="sb" x="182.5" y="1272.8" font-size="21" fill="#1c1c1c" textLength="147" lengthAdjust="spacingAndGlyphs">Distance (<tspan class="sr">µ</tspan>m)</text>
<polyline points="76.0,1217.3 76.3,1213.7 76.7,1210.2 77.0,1206.7 77.4,1203.3 77.7,1200.0 78.1,1196.7 78.4,1193.5 78.7,1190.4 79.1,1187.3 79.4,1184.3 79.8,1181.3 80.1,1178.4 80.4,1175.5 80.8,1172.7 81.1,1170.0 81.5,1167.3 81.8,1164.6 82.2,1162.0 82.5,1159.5 82.8,1156.9 83.2,1154.5 83.5,1152.1 83.9,1149.7 84.2,1147.4 84.6,1145.1 84.9,1142.8 85.2,1140.6 85.6,1138.4 85.9,1136.3 86.3,1134.2 86.6,1132.2 87.0,1130.2 87.3,1128.2 87.6,1126.2 88.0,1124.3 88.3,1122.4 88.7,1120.6 89.0,1118.8 89.3,1117.0 89.7,1115.3 90.0,1113.5 90.4,1111.9 90.7,1110.2 91.1,1108.6 91.4,1107.0 91.7,1105.4 92.1,1103.9 92.4,1102.3 92.8,1100.8 93.1,1099.4 93.5,1097.9 93.8,1096.5 94.1,1095.1 94.5,1093.7 94.8,1092.4 95.2,1091.1 95.5,1089.8 95.8,1088.5 96.2,1087.2 96.5,1086.0 96.9,1084.8 97.2,1083.6 97.6,1082.4 97.9,1081.2 98.2,1080.1 98.6,1079.0 98.9,1077.9 99.3,1076.8 99.6,1075.7 100.0,1074.7 100.3,1073.6 100.6,1072.6 101.0,1071.6 101.3,1070.6 101.7,1069.6 102.0,1068.7 102.3,1067.7 102.7,1066.8 103.0,1065.9 103.4,1065.0 103.7,1064.1 104.1,1063.3 104.4,1062.4 104.7,1061.6 105.1,1060.7 105.4,1059.9 105.8,1059.1 106.1,1058.3 106.5,1057.5 106.8,1056.7 107.1,1056.0 107.5,1055.2 107.8,1054.5 108.2,1053.8 108.5,1053.1 108.9,1052.4 109.2,1051.7 109.5,1051.0 109.9,1050.3 110.2,1049.6 110.6,1049.0 112.3,1045.8 114.0,1042.9 115.7,1040.1 117.4,1037.6 119.1,1035.2 120.8,1032.9 122.5,1030.8 124.3,1028.8 126.0,1026.9 127.7,1025.1 129.4,1023.4 131.1,1021.8 132.8,1020.3 134.5,1018.8 136.2,1017.5 137.9,1016.1 139.6,1014.9 141.4,1013.7 143.1,1012.6 144.8,1011.5 146.5,1010.4 148.2,1009.4 149.9,1008.5 151.6,1007.5 153.3,1006.7 155.0,1005.8 156.8,1005.0 158.5,1004.2 160.2,1003.4 161.9,1002.7 163.6,1002.0 165.3,1001.3 167.0,1000.6 168.7,1000.0 170.4,999.3 172.2,998.7 173.9,998.1 175.6,997.6 177.3,997.0 179.0,996.5 180.7,996.0 182.4,995.5 184.1,995.0 185.8,994.5 187.6,994.1 189.3,993.6 191.0,993.2 192.7,992.8 194.4,992.4 196.1,992.0 197.8,991.6 199.5,991.2 201.2,990.9 203.0,990.5 204.7,990.2 206.4,989.8 208.1,989.5 209.8,989.2 211.5,988.9 213.2,988.6 220.1,987.5 226.9,986.5 233.8,985.6 240.6,984.8 247.4,984.1 254.3,983.5 261.1,982.9 268.0,982.4 274.8,981.9 281.7,981.5 288.5,981.1 295.4,980.8 302.2,980.5 309.0,980.2 315.9,980.0 322.7,979.8 329.6,979.6 336.4,979.4 343.3,979.3 350.1,979.1 356.9,979.0 363.8,978.9 370.6,978.8 377.5,978.7 384.3,978.6 391.2,978.5 398.0,978.5 404.9,978.4 411.7,978.4" fill="none" stroke="#ee7478" stroke-width="1.9" stroke-linejoin="round"/>
<path d="M93 1075.5 V1092 M85.5 1075.5 h15 M85.5 1092 h15" stroke="#2a2a2a" stroke-width="1.5" fill="none"/>
<path d="M110 1071 V1088 M102.5 1071 h15 M102.5 1088 h15" stroke="#2a2a2a" stroke-width="1.5" fill="none"/>
<path d="M127 1038.7 V1087.5 M119.5 1038.7 h15 M119.5 1087.5 h15" stroke="#2a2a2a" stroke-width="1.5" fill="none"/>
<path d="M144.5 1012 V1072 M137.0 1012 h15 M137.0 1072 h15" stroke="#2a2a2a" stroke-width="1.5" fill="none"/>
<path d="M213 979.2 V1051.5 M205.5 979.2 h15 M205.5 1051.5 h15" stroke="#2a2a2a" stroke-width="1.5" fill="none"/>
<path d="M281.5 971 V1013.5 M274.0 971 h15 M274.0 1013.5 h15" stroke="#2a2a2a" stroke-width="1.5" fill="none"/>
<path d="M350 953.7 V1007 M342.5 953.7 h15 M342.5 1007 h15" stroke="#2a2a2a" stroke-width="1.5" fill="none"/>
<path d="M418.2 951 V1006 M410.7 951 h15 M410.7 1006 h15" stroke="#2a2a2a" stroke-width="1.5" fill="none"/>
<ellipse cx="78.7" cy="1212.5" rx="6.5" ry="5" fill="#0a0a0a"/>
<circle cx="93" cy="1083.7" r="6.5" fill="#0a0a0a"/>
<circle cx="110" cy="1079.5" r="6.5" fill="#0a0a0a"/>
<circle cx="127" cy="1063" r="6.5" fill="#0a0a0a"/>
<circle cx="144.5" cy="1042" r="6.5" fill="#0a0a0a"/>
<circle cx="213" cy="1015.5" r="6.5" fill="#0a0a0a"/>
<circle cx="281.5" cy="992" r="6.5" fill="#0a0a0a"/>
<circle cx="350" cy="980" r="6.5" fill="#0a0a0a"/>
<circle cx="418.2" cy="978.7" r="6.5" fill="#0a0a0a"/>
<rect x="478.8" y="930" width="359.40000000000003" height="285.5999999999999" fill="#fff" stroke="#707070" stroke-width="2.6"/>
<text class="sb" x="443.5" y="936.3" font-size="17.5" fill="#1c1c1c" textLength="25" lengthAdjust="spacingAndGlyphs">1.2</text>
<path d="M478.8 977.6 h6" stroke="#5e5e5e" stroke-width="1.3"/>
<text class="sb" x="443.5" y="983.9" font-size="17.5" fill="#1c1c1c" textLength="25" lengthAdjust="spacingAndGlyphs">1.0</text>
<path d="M478.8 1025.2 h6" stroke="#5e5e5e" stroke-width="1.3"/>
<text class="sb" x="443.5" y="1031.5" font-size="17.5" fill="#1c1c1c" textLength="25" lengthAdjust="spacingAndGlyphs">0.8</text>
<path d="M478.8 1072.8 h6" stroke="#5e5e5e" stroke-width="1.3"/>
<text class="sb" x="443.5" y="1079.1" font-size="17.5" fill="#1c1c1c" textLength="25" lengthAdjust="spacingAndGlyphs">0.6</text>
<path d="M478.8 1120.4 h6" stroke="#5e5e5e" stroke-width="1.3"/>
<text class="sb" x="443.5" y="1126.7" font-size="17.5" fill="#1c1c1c" textLength="25" lengthAdjust="spacingAndGlyphs">0.4</text>
<path d="M478.8 1168.0 h6" stroke="#5e5e5e" stroke-width="1.3"/>
<text class="sb" x="443.5" y="1174.3" font-size="17.5" fill="#1c1c1c" textLength="25" lengthAdjust="spacingAndGlyphs">0.2</text>
<text class="sb" x="443.5" y="1221.9" font-size="17.5" fill="#1c1c1c" textLength="25" lengthAdjust="spacingAndGlyphs">0.0</text>
<text class="sb" x="474.9" y="1241.6" font-size="17.3" fill="#1c1c1c" textLength="9.2" lengthAdjust="spacingAndGlyphs">0</text>
<path d="M547.5 1215.6 v-5" stroke="#5e5e5e" stroke-width="1.3"/>
<text class="sb" x="538.1" y="1241.6" font-size="17.3" fill="#1c1c1c" textLength="18.8" lengthAdjust="spacingAndGlyphs">20</text>
<path d="M615.5 1215.6 v-5" stroke="#5e5e5e" stroke-width="1.3"/>
<text class="sb" x="606.1" y="1241.6" font-size="17.3" fill="#1c1c1c" textLength="18.8" lengthAdjust="spacingAndGlyphs">40</text>
<path d="M683.5 1215.6 v-5" stroke="#5e5e5e" stroke-width="1.3"/>
<text class="sb" x="674.1" y="1241.6" font-size="17.3" fill="#1c1c1c" textLength="18.8" lengthAdjust="spacingAndGlyphs">60</text>
<path d="M751.5 1215.6 v-5" stroke="#5e5e5e" stroke-width="1.3"/>
<text class="sb" x="742.1" y="1241.6" font-size="17.3" fill="#1c1c1c" textLength="18.8" lengthAdjust="spacingAndGlyphs">80</text>
<path d="M819.5 1215.6 v-5" stroke="#5e5e5e" stroke-width="1.3"/>
<text class="sb" x="806.0" y="1241.6" font-size="17.3" fill="#1c1c1c" textLength="27" lengthAdjust="spacingAndGlyphs">100</text>
<text class="sb" x="584.2" y="1272.8" font-size="21" fill="#1c1c1c" textLength="147.5" lengthAdjust="spacingAndGlyphs">Distance (<tspan class="sr">µ</tspan>m)</text>
<polyline points="479.5,1215.6 479.8,1212.0 480.2,1208.5 480.5,1205.1 480.9,1201.7 481.2,1198.4 481.5,1195.1 481.9,1191.9 482.2,1188.8 482.6,1185.7 482.9,1182.7 483.2,1179.7 483.6,1176.8 483.9,1174.0 484.3,1171.2 484.6,1168.5 484.9,1165.8 485.3,1163.1 485.6,1160.5 486.0,1158.0 486.3,1155.5 486.6,1153.0 487.0,1150.6 487.3,1148.2 487.6,1145.9 488.0,1143.6 488.3,1141.4 488.7,1139.2 489.0,1137.0 489.3,1134.9 489.7,1132.8 490.0,1130.8 490.4,1128.8 490.7,1126.8 491.0,1124.9 491.4,1123.0 491.7,1121.1 492.1,1119.3 492.4,1117.5 492.7,1115.7 493.1,1113.9 493.4,1112.2 493.8,1110.6 494.1,1108.9 494.4,1107.3 494.8,1105.7 495.1,1104.1 495.5,1102.6 495.8,1101.1 496.1,1099.6 496.5,1098.1 496.8,1096.7 497.2,1095.3 497.5,1093.9 497.8,1092.5 498.2,1091.2 498.5,1089.8 498.9,1088.5 499.2,1087.3 499.5,1086.0 499.9,1084.8 500.2,1083.6 500.5,1082.4 500.9,1081.2 501.2,1080.0 501.6,1078.9 501.9,1077.8 502.2,1076.7 502.6,1075.6 502.9,1074.5 503.3,1073.5 503.6,1072.5 503.9,1071.4 504.3,1070.4 504.6,1069.5 505.0,1068.5 505.3,1067.5 505.6,1066.6 506.0,1065.7 506.3,1064.8 506.7,1063.9 507.0,1063.0 507.3,1062.1 507.7,1061.3 508.0,1060.4 508.4,1059.6 508.7,1058.8 509.0,1058.0 509.4,1057.2 509.7,1056.4 510.1,1055.7 510.4,1054.9 510.7,1054.1 511.1,1053.4 511.4,1052.7 511.8,1052.0 512.1,1051.3 512.4,1050.6 512.8,1049.9 513.1,1049.2 513.4,1048.6 513.8,1047.9 515.5,1044.8 517.2,1041.8 518.9,1039.1 520.6,1036.5 522.3,1034.1 524.0,1031.9 525.7,1029.8 527.4,1027.8 529.1,1025.9 530.8,1024.1 532.5,1022.4 534.2,1020.8 535.9,1019.3 537.6,1017.9 539.3,1016.5 540.9,1015.2 542.6,1014.0 544.3,1012.8 546.0,1011.6 547.7,1010.6 549.4,1009.5 551.1,1008.5 552.8,1007.6 554.5,1006.6 556.2,1005.7 557.9,1004.9 559.6,1004.1 561.3,1003.3 563.0,1002.5 564.7,1001.8 566.4,1001.1 568.1,1000.4 569.8,999.7 571.5,999.1 573.2,998.5 574.9,997.9 576.6,997.3 578.3,996.7 580.0,996.2 581.7,995.6 583.4,995.1 585.1,994.6 586.8,994.1 588.5,993.7 590.2,993.2 591.9,992.8 593.6,992.3 595.3,991.9 597.0,991.5 598.7,991.1 600.4,990.7 602.1,990.4 603.8,990.0 605.5,989.7 607.2,989.3 608.8,989.0 610.5,988.7 612.2,988.4 613.9,988.1 615.6,987.8 622.4,986.7 629.2,985.7 636.0,984.8 642.8,984.0 649.6,983.3 656.4,982.6 663.2,982.1 670.0,981.6 676.7,981.1 683.5,980.7 690.3,980.3 697.1,980.0 703.9,979.7 710.7,979.4 717.5,979.2 724.3,979.0 731.1,978.8 737.9,978.6 744.6,978.4 751.4,978.3 758.2,978.2 765.0,978.1 771.8,978.0 778.6,977.9 785.4,977.8 792.2,977.7 799.0,977.7 805.8,977.6 812.5,977.6" fill="none" stroke="#e0343e" stroke-width="2.9" stroke-dasharray="2.5 3.7" stroke-linejoin="round"/>
<path d="M615.5 1101 V1117 M608.5 1101 h14 M608.5 1117 h14" stroke="#2a2a2a" stroke-width="1.5" fill="none"/>
<path d="M615.5 1147.5 V1175.5 M608.5 1147.5 h14 M608.5 1175.5 h14" stroke="#2a2a2a" stroke-width="1.5" fill="none"/>
<path d="M649 1062 V1073 M642.0 1062 h14 M642.0 1073 h14" stroke="#2a2a2a" stroke-width="1.5" fill="none"/>
<path d="M649 1118.7 V1148 M642.0 1118.7 h14 M642.0 1148 h14" stroke="#2a2a2a" stroke-width="1.5" fill="none"/>
<path d="M683.3 1045.5 V1080.5 M676.3 1045.5 h14 M676.3 1080.5 h14" stroke="#2a2a2a" stroke-width="1.5" fill="none"/>
<path d="M683.3 1080.5 V1117 M676.3 1080.5 h14 M676.3 1117 h14" stroke="#2a2a2a" stroke-width="1.5" fill="none"/>
<path d="M750.7 988 V1030 M743.7 988 h14 M743.7 1030 h14" stroke="#2a2a2a" stroke-width="1.5" fill="none"/>
<path d="M750.7 1008.7 V1056 M743.7 1008.7 h14 M743.7 1056 h14" stroke="#2a2a2a" stroke-width="1.5" fill="none"/>
<path d="M819 948 V1001 M811.5 948 h15 M811.5 1001 h15" stroke="#2a2a2a" stroke-width="1.5" fill="none"/>
<path d="M819 960.5 V995 M811.5 960.5 h15 M811.5 995 h15" stroke="#2a2a2a" stroke-width="1.5" fill="none"/>
<path d="M547.5 1192.5 V1208.5 M541.5 1192.5 h12 M541.5 1208.5 h12" stroke="#2a2a2a" stroke-width="1.5" fill="none"/>
<rect x="507.4" y="1205.9" width="10.2" height="10.2" fill="#e8323e" stroke="#4a0b10" stroke-width="2"/>
<rect x="542.4" y="1198.9" width="10.2" height="10.2" fill="#e8323e" stroke="#4a0b10" stroke-width="2"/>
<rect x="541.5" y="1192.5" width="12" height="11.5" rx="3" fill="#0a0a0a"/>
<circle cx="615.5" cy="1109.5" r="6.5" fill="#0a0a0a"/>
<rect x="610.4" y="1155.9" width="10.2" height="10.2" fill="#e8323e" stroke="#4a0b10" stroke-width="2"/>
<rect x="642.8" y="1061.8" width="12.4" height="11.4" rx="3.5" fill="#0a0a0a"/>
<rect x="643.9" y="1127.9" width="10.2" height="10.2" fill="#e8323e" stroke="#4a0b10" stroke-width="2"/>
<circle cx="683.3" cy="1062.5" r="6.5" fill="#0a0a0a"/>
<rect x="678.1999999999999" y="1094.4" width="10.2" height="10.2" fill="#e8323e" stroke="#4a0b10" stroke-width="2"/>
<rect x="745.6" y="1024.9" width="10.2" height="10.2" fill="#e8323e" stroke="#4a0b10" stroke-width="2"/>
<circle cx="750.7" cy="1008.7" r="6.5" fill="#0a0a0a"/>
<rect x="813.9" y="969.4" width="10.2" height="10.2" fill="#e8323e" stroke="#4a0b10" stroke-width="2"/>
<circle cx="819" cy="977.5" r="6.5" fill="#0a0a0a"/>
</g>
</svg>
</body></html>
